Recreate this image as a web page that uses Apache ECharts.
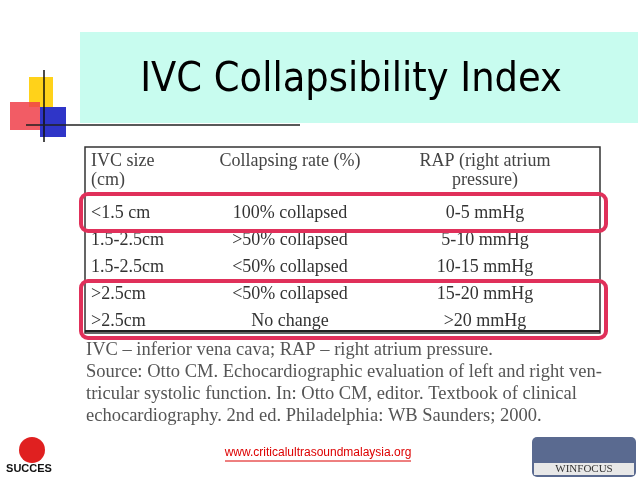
<!DOCTYPE html>
<html><head><meta charset="utf-8">
<script src="https://cdn.jsdelivr.net/npm/echarts@6/dist/echarts.min.js"></script>
<style>html,body{margin:0;padding:0;background:#fff}#c{width:638px;height:479px}</style>
</head><body><div id="c"></div>
<script>
const title = "IVC Collapsibility Index";
const headers = [["IVC size","(cm)"],["Collapsing rate (%)",""],["RAP (right atrium","pressure)"]];
const ivcSize = ["<1.5 cm","1.5-2.5cm","1.5-2.5cm",">2.5cm",">2.5cm"];
const collapseRate = ["100% collapsed",">50% collapsed","<50% collapsed","<50% collapsed","No change"];
const rap = ["0-5 mmHg","5-10 mmHg","10-15 mmHg","15-20 mmHg",">20 mmHg"];
const notes = ["IVC – inferior vena cava; RAP – right atrium pressure.",
 "Source: Otto CM. Echocardiographic evaluation of left and right ven-",
 "tricular systolic function. In: Otto CM, editor. Textbook of clinical",
 "echocardiography. 2nd ed. Philadelphia: WB Saunders; 2000."];
const url = "www.criticalultrasoundmalaysia.org";

const serif = "Liberation Serif";
const g = [];
g.push({type:'rect',shape:{x:80,y:32,width:558,height:91},style:{fill:'#c8fcef'}});
g.push({type:'rect',shape:{x:29,y:77,width:24,height:30},style:{fill:'#ffd21a'}});
g.push({type:'rect',shape:{x:10,y:102,width:30,height:28},style:{fill:'#f0404a',opacity:0.85}});
g.push({type:'rect',shape:{x:40,y:107,width:26,height:30},style:{fill:'#2f35c8'}});
g.push({type:'line',shape:{x1:44,y1:70,x2:44,y2:142},style:{stroke:'#111',lineWidth:1.5}});
g.push({type:'line',shape:{x1:26,y1:125,x2:300,y2:125},style:{stroke:'#222',lineWidth:1.5}});
g.push({type:'text',x:351,y:80,style:{text:title,font:'41px "DejaVu Sans Condensed","DejaVu Sans"',fill:'#000',textAlign:'center',textVerticalAlign:'middle'}});
// table
g.push({type:'rect',shape:{x:85,y:147,width:515,height:186},style:{fill:'#fff',stroke:'#333',lineWidth:1.5}});
g.push({type:'line',shape:{x1:85,y1:331,x2:600,y2:331},style:{stroke:'#222',lineWidth:2}});
const colX=[91,290,485], colAlign=['left','center','center'];
headers.forEach((h,i)=>{h.forEach((t,j)=>{ if(t) g.push({type:'text',x:colX[i],y:161+j*19,style:{text:t,font:'18px "'+serif+'"',fill:'#444',textAlign:colAlign[i],textVerticalAlign:'middle'}});});});
const cols=[ivcSize,collapseRate,rap];
cols.forEach((c,i)=>c.forEach((t,r)=>g.push({type:'text',x:colX[i],y:213+r*27,style:{text:t,font:'18px "'+serif+'"',fill:'#333',textAlign:colAlign[i],textVerticalAlign:'middle'}})));
g.push({type:'rect',shape:{x:81,y:194,width:525,height:37,r:7},style:{fill:'none',stroke:'#e0305a',lineWidth:4}});
g.push({type:'rect',shape:{x:81,y:281,width:525,height:57,r:7},style:{fill:'none',stroke:'#e0305a',lineWidth:4}});
notes.forEach((t,i)=>g.push({type:'text',x:86,y:350+i*22,style:{text:t,font:'18.5px "'+serif+'"',fill:'#555',textVerticalAlign:'middle'}}));
g.push({type:'text',x:318,y:453,style:{text:url,font:'12px "Liberation Sans"',fill:'#d00',textAlign:'center',textVerticalAlign:'middle'}});
g.push({type:'line',shape:{x1:225,y1:461,x2:411,y2:461},style:{stroke:'#d00',lineWidth:1}});
// logos
g.push({type:'circle',shape:{cx:32,cy:450,r:13},style:{fill:'#e02020'}});
g.push({type:'text',x:29,y:469,style:{text:'SUCCES',font:'bold 11px "Liberation Sans"',fill:'#111',textAlign:'center',textVerticalAlign:'middle'}});
g.push({type:'rect',shape:{x:532,y:437,width:104,height:40,r:5},style:{fill:'#5a6a90'}});
g.push({type:'rect',shape:{x:534,y:463,width:100,height:12},style:{fill:'#e8e8e8'}});
g.push({type:'text',x:584,y:469,style:{text:'WINFOCUS',font:'11px "Liberation Serif"',fill:'#333',textAlign:'center',textVerticalAlign:'middle'}});
echarts.init(document.getElementById('c')).setOption({animation:false,graphic:g});
</script></body></html>
